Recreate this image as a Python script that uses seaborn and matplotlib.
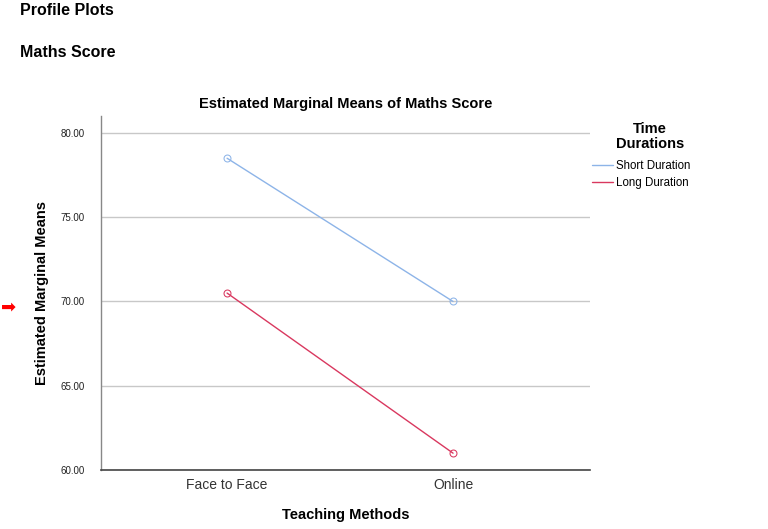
import numpy as np
import pandas as pd
import matplotlib
matplotlib.use("Agg")
import matplotlib.pyplot as plt
import seaborn as sns
from matplotlib.lines import Line2D

methods = ["Face to Face", "Online"]
durations = ["Short Duration", "Long Duration"]
short_means = [78.5, 70.0]
long_means = [70.5, 61.0]
y_ticks = [60, 65, 70, 75, 80]

colors = {"Short Duration": "#8db4e8", "Long Duration": "#d9385f"}

df = pd.DataFrame({
    "method": methods * 2,
    "duration": [durations[0]] * 2 + [durations[1]] * 2,
    "mean": short_means + long_means,
})

sns.set_style("white")
plt.rcParams["font.family"] = ["Liberation Sans", "DejaVu Sans"]
plt.rcParams["text.color"] = "black"
plt.rcParams["axes.labelcolor"] = "black"

fig = plt.figure(figsize=(7.68, 5.29), dpi=100)
ax = fig.add_axes([0.1315, 0.1115, 0.637, 0.669])

sns.lineplot(
    data=df, x="method", y="mean", hue="duration", palette=colors,
    marker="o", markersize=5, markerfacecolor="none", linewidth=1,
    legend=False, ax=ax,
)
for line in ax.lines:
    line.set_markeredgecolor(line.get_color())
    line.set_markerfacecolor("none")

ax.set_xlim(-0.558, 1.607)
ax.set_ylim(60, 81)
ax.set_yticks(y_ticks)
ax.set_yticklabels([f"{v:.2f}" for v in y_ticks], fontsize=7, color="#222222")
ax.tick_params(axis="x", labelsize=10, length=0, colors="#333333", pad=6)
ax.tick_params(axis="y", length=0, pad=12)
ax.yaxis.grid(True, color="#c8c8c8", linewidth=1)
ax.set_axisbelow(True)

for s in ["top", "right"]:
    ax.spines[s].set_visible(False)
ax.spines["left"].set_color("#888888")
ax.spines["bottom"].set_color("#444444")
ax.spines["left"].set_linewidth(1)
ax.spines["bottom"].set_linewidth(1.2)

ax.set_xlabel("Teaching Methods", fontsize=10.5, fontweight="bold", labelpad=11)
ax.set_ylabel("Estimated Marginal Means", fontsize=10.5, fontweight="bold", labelpad=8)
ax.set_title("Estimated Marginal Means of Maths Score", fontsize=10.5,
             fontweight="bold", pad=6)

# legend title drawn separately so it can sit centred above the entries
fig.text(0.846, 0.770, "Time\nDurations", fontsize=10.5, fontweight="bold",
         ha="center", va="top", linespacing=1.1)
handles = [Line2D([0], [0], color=colors[d], linewidth=1) for d in durations]
fig.legend(handles, durations, loc="upper left",
           bbox_to_anchor=(0.771, 0.697), frameon=False, fontsize=8.3,
           handlelength=1.8, handletextpad=0.3, labelspacing=0.38,
           borderpad=0, borderaxespad=0)

fig.text(0.026, 0.995, "Profile Plots", fontsize=11.5, fontweight="bold", va="top")
fig.text(0.026, 0.915, "Maths Score", fontsize=11.5, fontweight="bold", va="top")
fig.text(0.001, 0.418, "\u27a1", fontsize=13, color="red", va="center",
         family=["DejaVu Sans"])

fig.savefig("out.png", dpi=100)
